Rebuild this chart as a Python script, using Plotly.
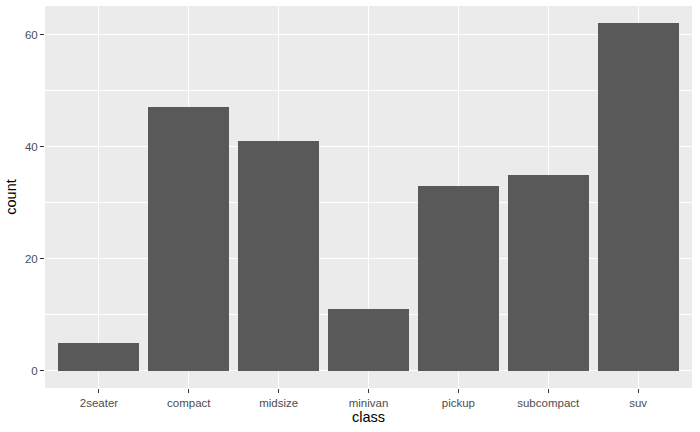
import plotly.graph_objects as go

# mpg class counts
classes = ['2seater', 'compact', 'midsize', 'minivan', 'pickup', 'subcompact', 'suv']
counts = [5, 47, 41, 11, 33, 35, 62]
y_ticks = [0, 20, 40, 60]

fig = go.Figure()
fig.add_trace(go.Bar(x=classes, y=counts, width=0.9,
                     marker=dict(color='#595959', line=dict(width=0))))

fig.update_layout(
    width=700, height=432,
    margin=dict(l=45, r=8, t=6, b=44),
    paper_bgcolor='white',
    plot_bgcolor='#EBEBEB',
    font=dict(family='Liberation Sans, Arial, sans-serif'),
    showlegend=False,
    bargap=0,
)
fig.update_xaxes(
    type='category', range=[-0.6, 6.6], automargin=False,
    showgrid=True, gridcolor='white', gridwidth=1.1,
    ticks='outside', ticklen=4, tickcolor='#333333', tickwidth=1,
    tickfont=dict(size=11.5, color='#4D4D4D'),
    title=dict(text='class', font=dict(size=14.5, color='black'), standoff=4),
    zeroline=False, showline=False,
)
fig.update_yaxes(
    range=[-3.1, 65.1], automargin=False,
    tickvals=y_ticks,
    showgrid=True, gridcolor='white', gridwidth=1.1,
    minor=dict(tickvals=[10, 30, 50], showgrid=True, gridcolor='white', gridwidth=0.55),
    ticks='outside', ticklen=4, tickcolor='#333333', tickwidth=1,
    tickfont=dict(size=11.5, color='#4D4D4D'),
    title=dict(text='count', font=dict(size=14.5, color='black'), standoff=4),
    zeroline=False, showline=False,
)

# drop the page's default body margin so the figure sits at the corner
fig.write_html("out.html", config={'displayModeBar': False},
               post_script="document.body.style.margin='0px';")
